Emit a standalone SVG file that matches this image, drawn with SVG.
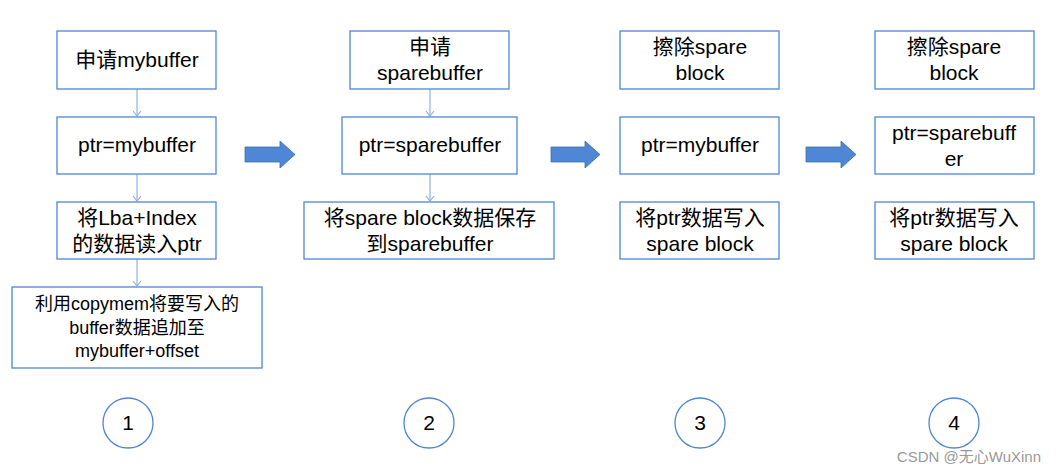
<svg xmlns="http://www.w3.org/2000/svg" width="1056" height="475" viewBox="0 0 1056 475">
<style>
.b{fill:#fff;stroke:#4f86d6;stroke-width:1.3}
.t{font-family:"Liberation Sans","Noto Sans CJK SC",sans-serif;font-size:21px;fill:#000;text-anchor:middle}
.s{font-size:18px}
.c{stroke:#8fb2e8;stroke-width:1.2;fill:none}
.ba{fill:#4f86d6;stroke:#41719c;stroke-width:0.8}
.ci{fill:#fff;stroke:#4f86d6;stroke-width:1.3}
</style>
<defs><marker id="a" markerWidth="10" markerHeight="10" refX="6" refY="5" orient="auto" markerUnits="userSpaceOnUse"><path d="M1,1 L6,5 L1,9" fill="none" stroke="#8fb2e8" stroke-width="1.2"/></marker></defs>
<rect width="1056" height="475" fill="#fff"/>
<g id="connectors">
<line class="c" x1="137" y1="89" x2="137" y2="116" marker-end="url(#a)"/>
<line class="c" x1="137" y1="174" x2="137" y2="201" marker-end="url(#a)"/>
<line class="c" x1="137" y1="259" x2="137" y2="286" marker-end="url(#a)"/>
<line class="c" x1="430" y1="89" x2="430" y2="116" marker-end="url(#a)"/>
<line class="c" x1="430" y1="174" x2="430" y2="201" marker-end="url(#a)"/>
<path class="ba" d="M245,147 H280 V141 L295,154.5 L280,168 V162 H245 Z"/>
<path class="ba" d="M551,147 H585 V141 L600,154.5 L585,168 V162 H551 Z"/>
<path class="ba" d="M806,147 H841 V141 L856,154.5 L841,168 V162 H806 Z"/>
</g>
<g id="n1"><rect class="b" x="57" y="31" width="159" height="58"/><text class="t" x="137" y="67">申请mybuffer</text></g>
<g id="n2"><rect class="b" x="57" y="117" width="159" height="57"/><text class="t" x="137" y="152">ptr=mybuffer</text></g>
<g id="n3"><rect class="b" x="57" y="202" width="159" height="57"/><text class="t" x="137" y="225">将Lba+Index</text><text class="t" x="137" y="251">的数据读入ptr</text></g>
<g id="n4"><rect class="b" x="12" y="287" width="250" height="81"/><text class="t s" x="137" y="310">利用copymem将要写入的</text><text class="t s" x="137" y="334">buffer数据追加至</text><text class="t s" x="137" y="357">mybuffer+offset</text></g>
<g id="n5"><rect class="b" x="350" y="31" width="159" height="58"/><text class="t" x="430" y="54">申请</text><text class="t" x="430" y="80">sparebuffer</text></g>
<g id="n6"><rect class="b" x="342" y="117" width="175" height="57"/><text class="t" x="430" y="152">ptr=sparebuffer</text></g>
<g id="n7"><rect class="b" x="304" y="202" width="250" height="57"/><text class="t" x="430" y="225">将spare block数据保存</text><text class="t" x="430" y="251">到sparebuffer</text></g>
<g id="n8"><rect class="b" x="620" y="31" width="159" height="58"/><text class="t" x="700" y="54">擦除spare</text><text class="t" x="700" y="80">block</text></g>
<g id="n9"><rect class="b" x="620" y="117" width="159" height="57"/><text class="t" x="700" y="152">ptr=mybuffer</text></g>
<g id="n10"><rect class="b" x="620" y="202" width="159" height="57"/><text class="t" x="700" y="225">将ptr数据写入</text><text class="t" x="700" y="251">spare block</text></g>
<g id="n11"><rect class="b" x="875" y="31" width="159" height="58"/><text class="t" x="954" y="54">擦除spare</text><text class="t" x="954" y="80">block</text></g>
<g id="n12"><rect class="b" x="875" y="117" width="159" height="57"/><text class="t" x="954" y="140">ptr=sparebuff</text><text class="t" x="954" y="166">er</text></g>
<g id="n13"><rect class="b" x="875" y="202" width="159" height="57"/><text class="t" x="954" y="225">将ptr数据写入</text><text class="t" x="954" y="251">spare block</text></g>
<g id="c1"><circle class="ci" cx="128" cy="423" r="25"/><text class="t" x="128" y="430">1</text></g>
<g id="c2"><circle class="ci" cx="429" cy="423" r="25"/><text class="t" x="429" y="430">2</text></g>
<g id="c3"><circle class="ci" cx="700" cy="423" r="25"/><text class="t" x="700" y="430">3</text></g>
<g id="c4"><circle class="ci" cx="954" cy="423" r="25"/><text class="t" x="954" y="430">4</text></g>
<text x="1041" y="462" font-family="'Liberation Sans','Noto Sans CJK SC',sans-serif" font-size="15" fill="#999" text-anchor="end">CSDN @无心WuXinn</text>
</svg>
